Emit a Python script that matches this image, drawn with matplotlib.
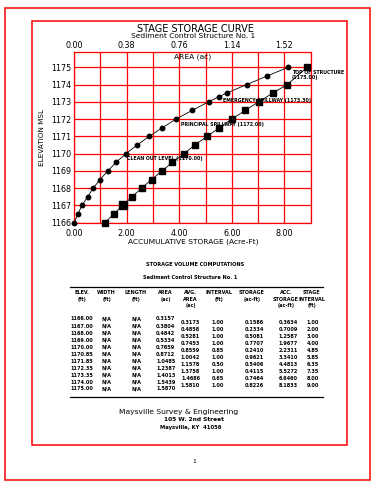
import matplotlib.pyplot as plt
from matplotlib.patches import Rectangle
from matplotlib.lines import Line2D

# chart data
elev_storage = [1166, 1166.5, 1167, 1167.5, 1168, 1168.5, 1169, 1169.5, 1170, 1170.5,
                1171, 1171.5, 1172, 1172.5, 1173, 1173.3, 1173.5, 1174, 1174.5, 1175]
acc_storage = [0.0, 0.15, 0.30, 0.52, 0.73, 0.99, 1.29, 1.60, 1.98, 2.40,
               2.86, 3.36, 3.88, 4.49, 5.12, 5.51, 5.80, 6.57, 7.35, 8.15]

elev_area = [1166, 1166.5, 1167, 1167.5, 1168, 1168.5, 1169, 1169.5, 1170, 1170.5,
             1171, 1171.5, 1172, 1172.5, 1173, 1173.5, 1174, 1175]
area_ac = [0.222, 0.287, 0.352, 0.420, 0.488, 0.561, 0.637, 0.711, 0.796, 0.872,
           0.963, 1.049, 1.140, 1.237, 1.334, 1.435, 1.541, 1.685]

storage_ticks = [0, 2, 4, 6, 8]
area_ticks = [0.0, 0.38, 0.76, 1.14, 1.52]
elev_ticks = [1166, 1167, 1168, 1169, 1170, 1171, 1172, 1173, 1174, 1175]

levels = [("TOP OF STRUCTURE\n(1175.00)", 8.28, 1174.55),
          ("EMERGENCY SPILLWAY (1173.30)", 5.68, 1173.05),
          ("PRINCIPAL SPILLWAY (1172.00)", 4.07, 1171.69),
          ("CLEAN OUT LEVEL (1170.00)", 2.03, 1169.69)]

# table data
t_elev = ["1166.00", "1167.00", "1168.00", "1169.00", "1170.00", "1170.85",
          "1171.85", "1172.35", "1173.35", "1174.00", "1175.00"]
t_area = ["0.3157", "0.3804", "0.4842", "0.5334", "0.7659", "0.8712",
          "1.0485", "1.2387", "1.4013", "1.5439", "1.5870"]
t_avg = ["0.3173", "0.4858", "0.5281", "0.7453", "0.8559", "1.0042",
         "1.1578", "1.3758", "1.4686", "1.5810"]
t_int = ["1.00", "1.00", "1.00", "1.00", "0.85", "1.00", "0.50", "1.00", "0.65", "1.00"]
t_stor = ["0.1586", "0.2334", "0.5081", "0.7707", "0.2410", "0.9621",
          "0.5406", "0.4115", "0.7464", "0.8226"]
t_acc = ["0.3634", "0.7009", "1.2587", "1.9677", "2.2311", "3.3410",
         "4.4813", "5.5272", "6.6460", "8.1833"]
t_stage = ["1.00", "2.00", "3.00", "4.00", "4.85", "5.85", "6.35", "7.35", "8.00", "9.00"]

W, H = 381, 486
RED = '#ff0000'
fig = plt.figure(figsize=(W / 100, H / 100), dpi=100)


def fx(x):
    return x / W


def fy(y):
    return 1 - y / H


def ftext(x, y, s, size, **kw):
    kw.setdefault('ha', 'center')
    kw.setdefault('va', 'center')
    fig.text(fx(x), fy(y), s, fontsize=size, **kw)


# page frames
for x0, y0, x1, y1 in [(5, 8, 370, 480), (32, 21, 347, 445)]:
    fig.patches.append(Rectangle((fx(x0), fy(y1)), fx(x1 - x0), (y1 - y0) / H,
                                 transform=fig.transFigure, fill=False,
                                 edgecolor=RED, lw=1.1))

# main chart
ax = fig.add_axes([fx(74), fy(222.7), fx(236.7), 171 / H])
ax.set_xlim(0, 9)
ax.set_ylim(1166, 1175.9)
ax.set_xticks(range(10))
ax.set_xticklabels(['%.2f' % v if v in storage_ticks else '' for v in range(10)])
ax.set_yticks(elev_ticks)
ax.set_yticklabels([str(v) for v in elev_ticks])
ax.grid(True, color=RED, lw=0.9)
ax.set_axisbelow(True)
for s in ax.spines.values():
    s.set_color(RED)
    s.set_linewidth(0.9)
ax.tick_params(length=0, labelsize=5.8)
ax.tick_params(axis='x', pad=4.5)
ax.tick_params(axis='y', pad=2)

ax.plot(acc_storage, elev_storage, '-o', color='black', lw=0.6, ms=3.2,
        clip_on=False, zorder=5)

ax2 = ax.twiny()
ax2.set_xlim(0, 9 * 0.19)
ax2.set_xticks(area_ticks)
ax2.set_xticklabels(['%.2f' % v for v in area_ticks])
ax2.tick_params(length=0, labelsize=5.8, pad=1)
for s in ax2.spines.values():
    s.set_visible(False)
ax2.plot(area_ac, elev_area, '-s', color='black', lw=0.6, ms=4.2,
         clip_on=False, zorder=5)
ax2.plot(area_ac[2], elev_area[2], 's', color='black', ms=6, zorder=6)

for label, x, y in levels:
    ax.text(x, y, label, fontsize=3.4, fontweight='bold', ha='left', va='center',
            linespacing=1.0, clip_on=False, zorder=7)

# titles and axis labels
ftext(195, 28.5, "STAGE STORAGE CURVE", 7)
ftext(193, 36.5, "Sediment Control Structure No. 1", 5.4)
ftext(193, 57, "AREA (ac)", 5.4)
ftext(193, 242, "ACCUMULATIVE STORAGE (Acre-Ft)", 5.4)
ftext(42, 137, "ELEVATION MSL", 5.2, rotation=90)

# table
ftext(195.5, 264, "STORAGE VOLUME COMPUTATIONS", 3.6, fontweight='bold')
ftext(190.5, 277.7, "Sediment Control Structure No. 1", 3.6, fontweight='bold')
fig.add_artist(Line2D([fx(70), fx(323)], [fy(287.3), fy(287.3)], color='black', lw=0.9))
fig.add_artist(Line2D([fx(70), fx(323)], [fy(397.3), fy(397.3)], color='black', lw=0.9))

headers = [(81.7, ["ELEV.", "(ft)"]), (106.7, ["WIDTH", "(ft)"]),
           (136, ["LENGTH", "(ft)"]), (165.7, ["AREA", "(ac)"]),
           (190.5, ["AVG.", "AREA", "(ac)"]), (219, ["INTERVAL", "(ft)"]),
           (252, ["STORAGE", "(ac-ft)"]), (286, ["ACC.", "STORAGE", "(ac-ft)"]),
           (311.5, ["STAGE", "INTERVAL", "(ft)"])]
for x, lines in headers:
    for i, s in enumerate(lines):
        ftext(x, 292.3 + 6.7 * i, s, 3.5, fontweight='bold')

for i in range(len(t_elev)):
    y = 319 + 7 * i
    ftext(81.7, y, t_elev[i], 3.6, fontweight='bold')
    ftext(106.7, y, "N/A", 3.6, fontweight='bold')
    ftext(136, y, "N/A", 3.6, fontweight='bold')
    ftext(165.7, y, t_area[i], 3.6, fontweight='bold')
for i in range(len(t_avg)):
    y = 322.5 + 7 * i
    ftext(190.5, y, t_avg[i], 3.6, fontweight='bold')
    ftext(218, y, t_int[i], 3.6, fontweight='bold')
    ftext(254, y, t_stor[i], 3.6, fontweight='bold')
    ftext(288.5, y, t_acc[i], 3.6, fontweight='bold')
    ftext(313, y, t_stage[i], 3.6, fontweight='bold')

# footer
ftext(179, 411.7, "Maysville Survey & Engineering", 5.4)
ftext(193.7, 419.5, "105 W. 2nd Street", 4.2, fontweight='bold')
ftext(191, 427, "Maysville, KY  41056", 3.8, fontweight='bold')
ftext(194.3, 461.7, "1", 4.5)

fig.savefig('out.png', dpi=100)
